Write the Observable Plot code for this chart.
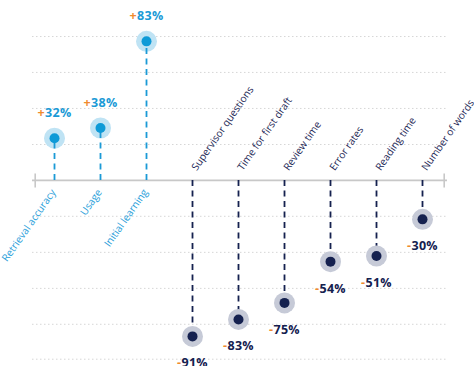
<!DOCTYPE html>
<html>
<head>
<meta charset="utf-8">
<script src="https://cdn.jsdelivr.net/npm/d3@7"></script>
<script src="https://cdn.jsdelivr.net/npm/@observablehq/plot@0.6"></script>
<style>
  html, body { margin: 0; padding: 0; background: #ffffff; }
  #chart svg { display: block; }
</style>
</head>
<body>
<div id="chart"></div>
<script>
// ---- data ----
const categories = [
  "Retrieval accuracy", "Usage", "Initial learning",
  "Supervisor questions", "Time for first draft", "Review time",
  "Error rates", "Reading time", "Number of words"
];
const values = [32, 38, 83, -91, -83, -75, -54, -51, -30];
// unlabeled horizontal guide lines (value positions)
const gridTicks = [-101.5, -85.3, -67.8, -49, -28.1, 28.1, 49, 67.8, 85.3];

const data = categories.map((c, i) => ({category: c, value: values[i]}));
const pos = data.filter(d => d.value > 0);
const neg = data.filter(d => d.value < 0);

const BLUE = "#1b9ad6", NAVY = "#15214f", ORANGE = "#f08a2e";

const capSymbol = {
  draw(context, size) {
    const h = Math.sqrt(size / Math.PI);
    context.moveTo(0, -h);
    context.lineTo(0, h);
  }
};

const plot = Plot.plot({
  width: 474,
  height: 366,
  marginLeft: 51,
  marginRight: 49,
  marginTop: 0,
  marginBottom: 0,
  x: {type: "point", domain: categories, padding: 0, axis: null},
  y: {type: "pow", exponent: 1.25, domain: [-104.8, 102], axis: null},
  style: {fontFamily: "'Open Sans', sans-serif", background: "#ffffff"},
  marks: [
    Plot.ruleY(gridTicks, {stroke: "#d6d6d6", strokeWidth: 1, strokeDasharray: "1.5,2.5", insetLeft: -19, insetRight: -22}),
    Plot.ruleY([0], {stroke: "#c8c8c8", strokeWidth: 1.6, insetLeft: -19, insetRight: -22}),
    Plot.dot([categories[0]], {x: d => d, y: () => 0, r: 7, symbol: capSymbol, stroke: "#c8c8c8", strokeWidth: 1.6, fill: "none", dx: -19.3}),
    Plot.dot([categories[categories.length - 1]], {x: d => d, y: () => 0, r: 7, symbol: capSymbol, stroke: "#c8c8c8", strokeWidth: 1.6, fill: "none", dx: 21.7}),
    Plot.ruleX(neg, {x: "category", y1: 0, y2: "value", stroke: NAVY, strokeWidth: 1.8, strokeDasharray: "6,4.5"}),
    Plot.dot(pos, {x: "category", y: "value", r: 10.5, fill: "#bfe3f4"}),
    Plot.dot(neg, {x: "category", y: "value", r: 10.5, fill: "#c6cad7"}),
    Plot.ruleX(pos, {x: "category", y1: 0, y2: "value", stroke: BLUE, strokeWidth: 1.8, strokeDasharray: "6,4.5"}),
    Plot.dot(pos, {x: "category", y: "value", r: 5, fill: "#0e9ad7"}),
    Plot.dot(neg, {x: "category", y: "value", r: 5, fill: NAVY}),
    Plot.text(pos, {x: "category", y: "value", text: d => "+" + d.value + "%", dy: -25.5, fill: BLUE, fontSize: 12.5, fontWeight: 700}),
    Plot.text(neg, {x: "category", y: "value", text: d => "-" + Math.abs(d.value) + "%", dy: 27, fill: NAVY, fontSize: 12.5, fontWeight: 700}),
    Plot.text(pos, {x: "category", y: () => 0, text: "category", rotate: -55, textAnchor: "end", dx: -1, dy: 10, fill: "#2aa0da", fontSize: 10.2}),
    Plot.text(neg, {x: "category", y: () => 0, text: "category", rotate: -55, textAnchor: "start", dx: 1.5, dy: -11, fill: "#1f2a57", fontSize: 10.2})
  ]
});

// colour the leading sign of each value label orange
d3.select(plot).selectAll("text").each(function() {
  const t = this.textContent;
  const m = /^([+\-])(\d+%)$/.exec(t);
  if (m) {
    const sel = d3.select(this);
    sel.text(null);
    sel.append("tspan").attr("fill", ORANGE).text(m[1]);
    sel.append("tspan").text(m[2]);
    sel.style("letter-spacing", "0.3px");
  }
});

document.getElementById("chart").appendChild(plot);
</script>
</body>
</html>
